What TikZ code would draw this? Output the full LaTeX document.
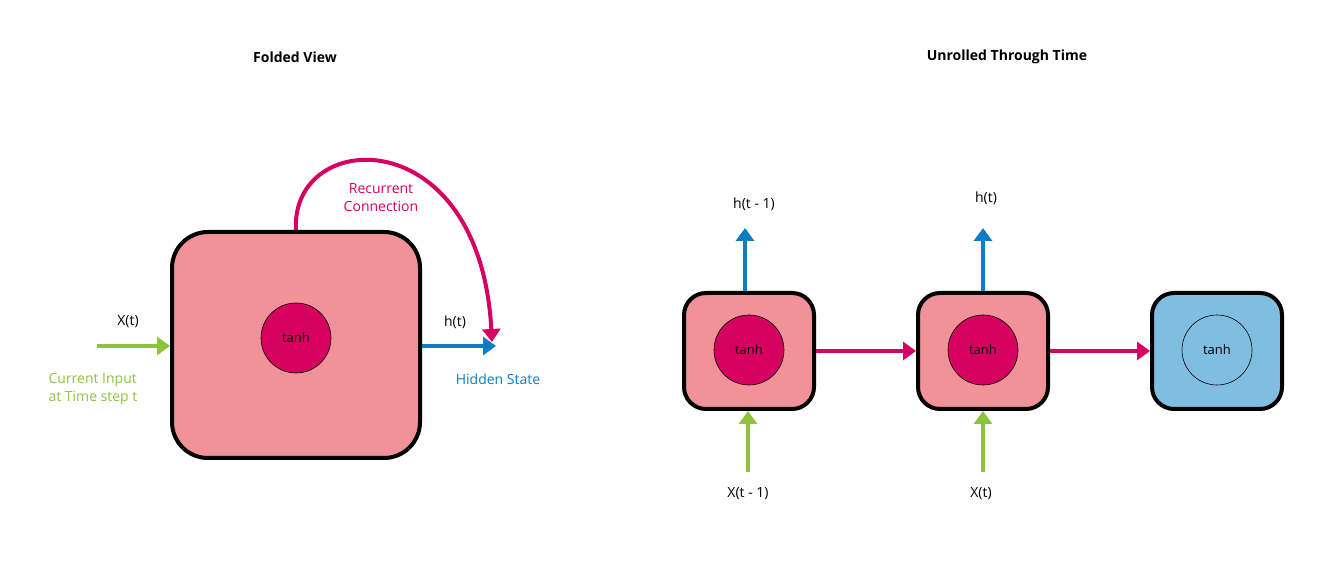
\documentclass[tikz,border=0pt]{standalone}
\usepackage{fontspec}
\setmainfont{Open Sans}
\usetikzlibrary{arrows.meta,positioning}
\definecolor{cellred}{HTML}{F09297}
\definecolor{tanhred}{HTML}{D5005F}
\definecolor{cellblue}{HTML}{7FBDE1}
\definecolor{inpgreen}{HTML}{8CC43C}
\definecolor{outblue}{HTML}{0C7DC4}
\tikzset{
  cell/.style={rectangle, draw=black, line width=4pt, fill=cellred, rounded corners=22pt},
  gate/.style={circle, draw=black, line width=0.6pt, fill=tanhred, minimum size=70pt, inner sep=0pt, font=\fontsize{13}{15}\selectfont},
  lab/.style={font=\fontsize{14}{18}\selectfont, align=center},
  arr/.style={line width=4pt, -{Triangle[length=13pt,width=18pt]}},
}
\begin{document}
\begin{tikzpicture}[x=1pt,y=1pt]
    \useasboundingbox (0,0) rectangle (1341,578);
    % titles
    \node[lab, font=\fontsize{14}{18}\selectfont\bfseries] (ftitle) at (295,521) {Folded View};
    \node[lab, font=\fontsize{14}{18}\selectfont\bfseries] (utitle) at (1007,521) {Unrolled Through Time};

    % folded view
    \node[cell, minimum width=248pt, minimum height=226pt, rounded corners=36pt] (fcell) at (296,233) {};
    \node[gate] (fgate) at (296,240) {tanh};
    \coordinate (fin) at (97,232);
    \coordinate (fout) at (496,232);
    \draw[arr, inpgreen] (fin) -- (fin -| fcell.west);
    \draw[arr, outblue] (fout -| fcell.east) -- (fout);
    \node[lab] (fx) at (128,256) {X(t)};
    \node[lab, inpgreen, align=left] (fxtext) at (93,189) {Current Input\\at Time step t};
    \node[lab] (fh) at (455,256) {h(t)};
    \node[lab, outblue] (fhtext) at (498,199) {Hidden State};
    \draw[arr, tanhred] (fcell.north) .. controls (290,450) and (480,460) .. (492,236);
    \node[lab, tanhred] (frec) at (381,380) {Recurrent\\Connection};

    % unrolled view
    \node[cell, minimum width=130pt, minimum height=116pt] (cella) at (749,227) {};
    \node[cell, minimum width=130pt, minimum height=116pt] (cellb) at (983,227) {};
    \node[cell, fill=cellblue, minimum width=130pt, minimum height=116pt] (cellc) at (1217,227) {};
    \node[gate] (gatea) at (749,228) {tanh};
    \node[gate] (gateb) at (983,228) {tanh};
    \node[gate, fill=cellblue] (gatec) at (1217,228) {tanh};
    \draw[arr, tanhred] (cella) -- (cellb);
    \draw[arr, tanhred] (cellb) -- (cellc);

    \node[lab] (ha) at (754,374) {h(t - 1)};
    \node[lab] (hb) at (986,380) {h(t)};
    \node[lab] (xa) at (748,84) {X(t - 1)};
    \node[lab] (xb) at (981,84) {X(t)};
    \coordinate (ina) at (748,106);
    \coordinate (inb) at (983,106);
    \coordinate (outa) at (745,350);
    \coordinate (outb) at (983,350);
    \draw[arr, outblue] (outa |- cella.north) -- (outa);
    \draw[arr, outblue] (cellb.north) -- (outb);
    \draw[arr, inpgreen] (ina) -- (ina |- cella.south);
    \draw[arr, inpgreen] (inb) -- (cellb.south);
\end{tikzpicture}
\end{document}
